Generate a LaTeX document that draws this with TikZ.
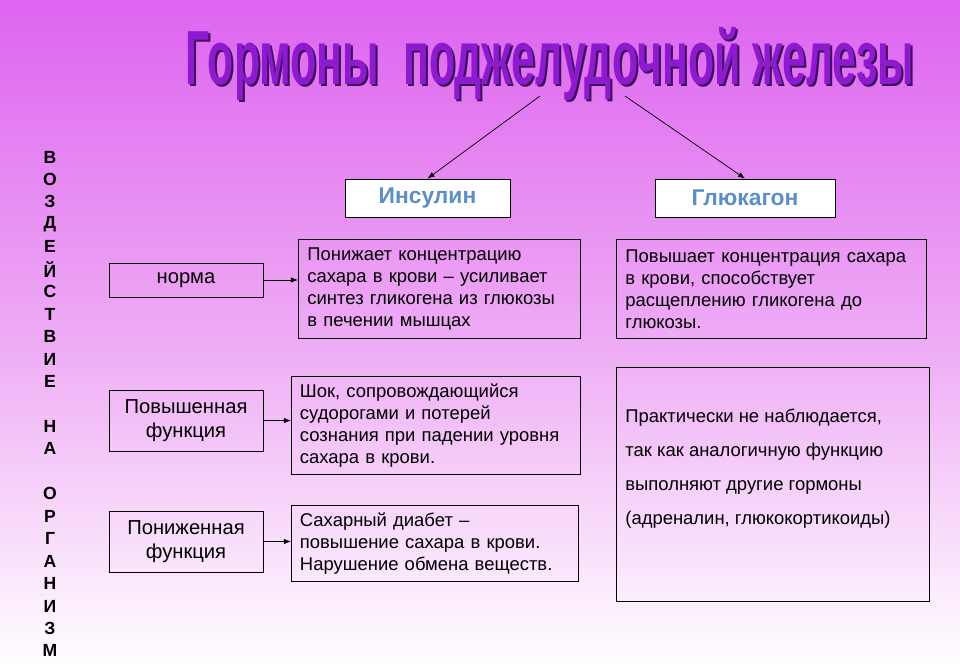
\documentclass[tikz,border=0pt]{standalone}
\usepackage{fontspec}
\setmainfont{Liberation Sans}
\usetikzlibrary{positioning,arrows.meta}

\definecolor{titlePurple}{HTML}{8E1ACF}
\definecolor{titleShade}{HTML}{3A0F5A}
\definecolor{hormBlue}{HTML}{5B8FC6}

\tikzset{
  plainbox/.style={draw=black, line width=0.5pt, inner sep=4pt, font=\fontsize{10.5}{12.5}\selectfont},
  hormbox/.style={plainbox, fill=white, font=\bfseries\fontsize{13}{15}\selectfont, text=hormBlue},
  effbox/.style={plainbox, align=left, anchor=north west},
  linkarrow/.style={-{Latex[length=4pt,width=3pt]}, line width=0.4pt}
}

\begin{document}
\begin{tikzpicture}[x=0.02cm, y=-0.02cm]

  % Background:
  \shade[top color={rgb,255:red,222;green,100;blue,240}, bottom color=white, middle color={rgb,255:red,238;green,170;blue,245}]
    (0,0) rectangle (960,669);
  \useasboundingbox (0,0) rectangle (960,669);

  % Title:
  \node[text=titleShade] at (552,66) {\scalebox{0.53}[0.95]{\bfseries\fontsize{46}{50}\selectfont Гормоны\ \ поджелудочной железы}};
  \node[text=titlePurple] (title) at (550,64) {\scalebox{0.53}[0.95]{\bfseries\fontsize{46}{50}\selectfont Гормоны\ \ поджелудочной железы}};
  \coordinate (titleL) at (540,96);
  \coordinate (titleR) at (625,96);

  % Hormones:
  \node[hormbox, minimum width=165*0.02cm, minimum height=38*0.02cm] (insulin) at (427.5,198) {Инсулин};
  \node[hormbox, minimum width=180*0.02cm, minimum height=38*0.02cm] (glucagon) at (745,198) {Глюкагон};
  \draw[linkarrow] (titleL) -- (insulin.north);
  \draw[linkarrow] (titleR) -- (glucagon.north);

  % Left column:
  \node[plainbox, minimum width=154*0.02cm, minimum height=34*0.02cm, font=\fontsize{11.5}{13}\selectfont] (norm) at (186,280) {норма};
  \node[plainbox, minimum width=154*0.02cm, minimum height=61*0.02cm, align=center, font=\fontsize{11.5}{14}\selectfont] (high) at (186,420.5) {Повышенная\\функция};
  \node[plainbox, minimum width=154*0.02cm, minimum height=61*0.02cm, align=center, font=\fontsize{11.5}{14}\selectfont] (low) at (186,541.5) {Пониженная\\функция};

  % Insulin effects:
  \node[effbox, minimum width=282*0.02cm, minimum height=99*0.02cm, text width=264*0.02cm] (insNorm) at (298,239)
    {Понижает концентрацию\\сахара в крови -- усиливает\\синтез гликогена из глюкозы\\в печении мышцах};
  \node[effbox, minimum width=289*0.02cm, minimum height=98*0.02cm, text width=272*0.02cm] (insHigh) at (291,376)
    {Шок, сопровождающийся\\судорогами и потерей\\сознания при падении уровня\\сахара в крови.};
  \node[effbox, minimum width=287*0.02cm, minimum height=76*0.02cm, text width=270*0.02cm] (insLow) at (291,505)
    {Сахарный диабет --\\повышение сахара в крови.\\Нарушение обмена веществ.};

  \draw[linkarrow] (norm.east) -- (norm.east -| insNorm.west);
  \draw[linkarrow] (high.east) -- (high.east -| insHigh.west);
  \draw[linkarrow] (low.east) -- (low.east -| insLow.west);

  % Glucagon effects:
  \node[effbox, minimum width=310*0.02cm, minimum height=99*0.02cm, text width=292*0.02cm] (glucNorm) at (616,239)
    {Повышает концентрация сахара\\в крови, способствует\\расщеплению гликогена до\\глюкозы.};
  \node[plainbox, minimum width=313*0.02cm, minimum height=234*0.02cm] (glucRest) at (772.5,484) {};
  \node[align=left, anchor=north west, inner sep=0pt, font=\fontsize{10.5}{19.3}\selectfont] (glucText) at (625,409)
    {Практически не наблюдается,\\так как аналогичную функцию\\выполняют другие гормоны\\(адреналин, глюкокортикоиды)};

  % Vertical caption:
  \foreach \ch [count=\i from 0] in {В,О,З,Д,Е,Й,С,Т,В,И,Е,{},Н,А,{},О,Р,Г,А,Н,И,З,М}
    \node[font=\bfseries\fontsize{10}{12}\selectfont, inner sep=0pt] at (50,157+\i*22.45) {\ch};

\end{tikzpicture}
\end{document}
